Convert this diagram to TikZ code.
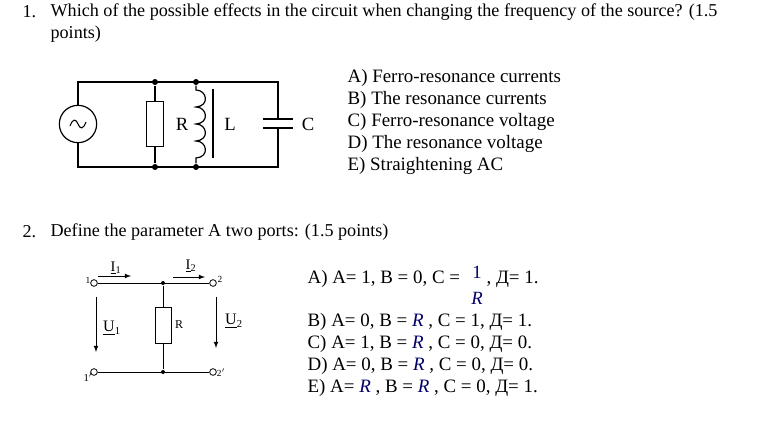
\documentclass[tikz,border=0pt]{standalone}
\usepackage{fontspec}
\setmainfont{Liberation Serif}
\begin{document}
\begin{tikzpicture}[x=0.75pt,y=-0.75pt,line width=0.9pt,
  txt/.style={anchor=west,inner sep=0pt,font=\fontsize{13.6}{15}\selectfont},
  opt/.style={anchor=west,inner sep=0pt,font=\fontsize{14.2}{15}\selectfont},
  lbl/.style={inner sep=0pt,font=\fontsize{14}{15}\selectfont},
  sm/.style={inner sep=0pt,font=\fontsize{9}{10}\selectfont},
  dot/.style={circle,fill,inner sep=0pt,minimum size=4.5pt},
  term/.style={circle,draw,fill=white,inner sep=0pt,minimum size=5pt,line width=0.6pt},
  res/.style={draw,fill=white,minimum width=13pt,minimum height=34pt,inner sep=0pt},
  arr/.style={-latex,line width=0.6pt}]
\useasboundingbox (0,0) rectangle (773,427);
\colorlet{rc}{blue!40!black}
% Question 1
\node[txt] (n1) at (22,12) {1.};
\node[txt] (q1) at (50,12) {Which of the possible effects in the circuit when changing the frequency of the source? (1.5};
\node[txt] (q1b) at (50,34) {points)};
% circuit 1
\coordinate (tl) at (78,82); \coordinate (bl) at (78,167);
\coordinate (tr) at (278,82); \coordinate (br) at (278,167);
\node[dot] (d1) at (155,82) {}; \node[dot] (d2) at (196,82) {};
\node[dot] (d3) at (155,167) {}; \node[dot] (d4) at (196,167) {};
\node[circle,draw,minimum size=28pt,inner sep=0pt] (src) at (78,124) {};
\draw (src.north) -- (tl) -- (tr) -- (278,119);
\draw (src.south) -- (bl) -- (br) -- (278,128);
\draw (263,119) -- (293,119); \draw (263,128) -- (293,128);
\draw[line width=0.8pt] (70,126) .. controls (73,118) and (76,119) .. (78,124) .. controls (80,129) and (83,130) .. (86,122);
\node[res] (R1) at (155,124) {};
\draw (d1) -- (R1.north); \draw (R1.south) -- (d3);
\draw (d2) -- (196,90)
  .. controls (207,90) and (210,106) .. (196,107)
  .. controls (207,107) and (210,123) .. (196,124)
  .. controls (207,124) and (210,140) .. (196,141)
  .. controls (207,141) and (210,157) .. (196,158) -- (d4);
\draw[line width=1.2pt] (213,89) -- (213,158);
\node[lbl] (Rl) at (182,124) {R};
\node[lbl] (Ll) at (230,124) {L};
\node[lbl] (Cl) at (308,124) {C};
\foreach \t [count=\i] in {A) Ferro-resonance currents,B) The resonance currents,C) Ferro-resonance voltage,D) The resonance voltage,E) Straightening AC}
  \node[opt] (o\i) at (347,56+22*\i) {\t};
% Question 2
\node[txt] (n2) at (22,232) {2.};
\node[txt] (q2) at (50,232) {Define the parameter A two ports: (1.5 points)};
% circuit 2
\node[term] (t1) at (94,283) {}; \node[term] (t2) at (213,283) {};
\node[term] (t1p) at (94,372) {}; \node[term] (t2p) at (213,372) {};
\node[dot,minimum size=3pt] (j1) at (163,283) {}; \node[dot,minimum size=3pt] (j2) at (163,372) {};
\draw[line width=0.6pt] (t1) -- (t2); \draw[line width=0.6pt] (t1p) -- (t2p);
\node[res,line width=0.6pt,minimum width=12pt,minimum height=27pt] (R2) at (163,325) {};
\draw[line width=0.6pt] (j1) -- (R2.north); \draw[line width=0.6pt] (R2.south) -- (j2);
\node[sm] at (179,325) {R};
\coordinate (a1s) at (98,276); \coordinate (a1e) at (131,276);
\draw[arr] (a1s) -- (a1e);
\coordinate (a2s) at (173,277); \coordinate (a2e) at (205,277);
\draw[arr] (a2s) -- (a2e);
\coordinate (u1s) at (96,297); \coordinate (u1e) at (96,352);
\draw[arr] (u1s) -- (u1e);
\coordinate (u2s) at (216,297); \coordinate (u2e) at (216,348);
\draw[arr] (u2s) -- (u2e);
\node[lbl,font=\fontsize{11}{12}\selectfont] at (116,268) {\underline{I}\textsubscript{1}};
\node[lbl,font=\fontsize{11}{12}\selectfont] at (191,266) {\underline{I}\textsubscript{2}};
\node[lbl,font=\fontsize{12}{13}\selectfont] at (112,328) {\underline{U}\textsubscript{1}};
\node[lbl,font=\fontsize{12}{13}\selectfont] at (234,321) {\underline{U}\textsubscript{2}};
\node[sm,font=\fontsize{7}{8}\selectfont] at (88,280) {1};
\node[sm,font=\fontsize{7}{8}\selectfont] at (220,279) {2};
\node[sm,font=\fontsize{8}{9}\selectfont] at (88,377) {1$'$};
\node[sm,font=\fontsize{7}{8}\selectfont] at (221,373) {2$'$};
% answers
\node[opt] (a1) at (307,279) {A) A= 1, B = 0, C = };
\node[lbl,text=rc] (fr1) at (477,272) {1};
\node[lbl,text=rc] (fr2) at (477,298) {\textit{R}};
\node[opt] (a1b) at (486,279) {, Д= 1.};
\node[opt] (b) at (307,322) {B) A= 0, B = \textcolor{rc}{\textit{R}} , C = 1, Д= 1.};
\node[opt] (c) at (307,344) {C) A= 1, B = \textcolor{rc}{\textit{R}} , C = 0, Д= 0.};
\node[opt] (d) at (307,366) {D) A= 0, B = \textcolor{rc}{\textit{R}} , C = 0, Д= 0.};
\node[opt] (e) at (307,388) {E) A= \textcolor{rc}{\textit{R}} , B = \textcolor{rc}{\textit{R}} , C = 0, Д= 1.};
\end{tikzpicture}
\end{document}
